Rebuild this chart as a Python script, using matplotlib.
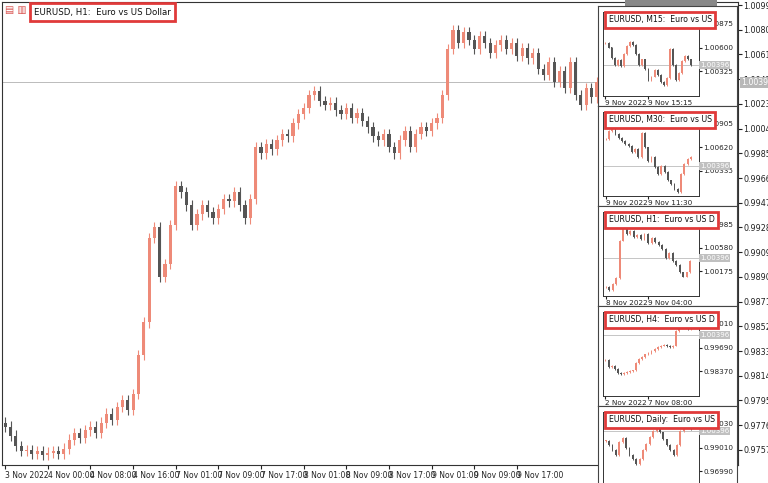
import matplotlib
matplotlib.use("Agg")
import matplotlib.pyplot as plt
import numpy as np

W, H = 768, 483
BULL = "#EE8A78"
BEAR = "#555555"

main_closes = [0.9775,0.9768,0.9760,0.9756,0.9757,0.9754,0.9756,0.9753,0.9755,0.9756,0.9754,0.9758,
 0.9765,0.9770,0.9766,0.9772,0.9775,0.9770,0.9778,0.9785,0.9780,0.9790,0.9795,0.9788,0.9800,
 0.9830,0.9855,0.9920,0.9928,0.9890,0.9900,0.9930,0.9960,
 0.9955,0.9945,0.9930,0.9938,0.9945,0.9940,0.9935,0.9942,0.9950,0.9948,0.9955,0.9945,0.9935,0.9950,
 0.9990,0.9985,0.9992,0.9988,0.9995,1.0000,0.9998,1.0008,1.0015,1.0020,1.0030,1.0033,
 1.0025,1.0022,1.0024,1.0018,1.0015,1.0020,1.0012,1.0016,1.0010,1.0005,0.9998,0.9995,1.0000,0.9990,0.9985,0.9995,1.0002,0.9990,
 1.0000,1.0005,1.0002,1.0008,1.0012,1.0030,
 1.0065,1.0080,1.0070,
 1.0078,1.0072,1.0065,1.0075,1.0070,1.0062,1.0068,1.0072,1.0065,1.0070,1.0060,1.0066,1.0058,1.0062,
 1.0050,1.0045,1.0055,1.0040,1.0048,1.0035,1.0055,1.0030,1.0022,1.0035,1.0028,1.0040]
main_open0 = 0.9778
main_ticks = [1.00990,1.00800,1.00610,1.00420,1.00230,1.00040,0.99850,0.99660,0.99470,0.99280,
              0.99090,0.98900,0.98710,0.98520,0.98330,0.98140,0.97950,0.97760,0.97570]
main_xlabels = ["3 Nov 2022","4 Nov 00:00","4 Nov 08:00","4 Nov 16:00","7 Nov 01:00","7 Nov 09:00",
                "7 Nov 17:00","8 Nov 01:00","8 Nov 09:00","8 Nov 17:00","9 Nov 01:00","9 Nov 09:00","9 Nov 17:00"]
current = 1.00396

minis = [
 ("EURUSD, M15:  Euro vs US", [1.00875,1.00600,1.00325], ["9 Nov 2022","9 Nov 15:15"],
  [1.0065,1.0060,1.0048,1.0040,1.0045,1.0038,1.0052,1.0062,1.0066,1.0063,1.0052,1.0040,1.0046,1.0035,1.0022,
   1.0026,1.0034,1.0028,1.0020,1.0016,1.0024,1.0058,1.0040,1.0022,1.0030,1.0044,1.0050,1.0046,1.0040]),
 ("EURUSD, M30:  Euro vs US", [1.00905,1.00620,1.00335], ["9 Nov 2022","9 Nov 11:30"],
  [1.0072,1.0082,1.0086,1.0078,1.0074,1.0070,1.0066,1.0064,1.0056,1.0060,1.0050,1.0080,1.0062,1.0046,
   1.0050,1.0038,1.0030,1.0040,1.0032,1.0022,1.0018,1.0012,1.0008,1.0030,1.0042,1.0048,1.0050]),
 ("EURUSD, H1:  Euro vs US D", [1.00985,1.00580,1.00175], ["8 Nov 2022","9 Nov 04:00"],
  [0.9990,0.9985,0.9995,1.0005,1.0070,1.0090,1.0082,1.0086,1.0076,1.0080,1.0072,1.0082,1.0066,1.0074,
   1.0068,1.0062,1.0055,1.0040,1.0048,1.0035,1.0028,1.0015,1.0008,1.0015,1.0035]),
 ("EURUSD, H4:  Euro vs US D", [1.01010,0.99690,0.98370], ["2 Nov 2022","7 Nov 08:00"],
  [0.9900,0.9860,0.9865,0.9850,0.9828,0.9820,0.9824,0.9830,0.9836,0.9840,0.9880,0.9905,0.9915,0.9930,
   0.9940,0.9950,0.9962,0.9970,0.9980,0.9984,0.9975,0.9972,0.9980,1.0060,1.0095,1.0090,1.0082,1.0075,1.0085]),
 ("EURUSD, Daily:  Euro vs US", [1.01030,0.99010,0.96990], ["",""],
  [0.9960,0.9920,0.9880,0.9840,0.9950,0.9980,0.9900,0.9840,0.9800,0.9760,0.9800,0.9880,0.9930,0.9990,
   1.0040,1.0100,1.0030,0.9970,0.9920,0.9880,0.9840,0.9920,1.0040,1.0080,1.0100,1.0060]),
]

def rect(x, y, w, h):
    return [x / W, 1 - (y + h) / H, w / W, h / H]

def candles(ax, closes, o0, wick, width=0.6, lw=0.8):
    closes = np.array(closes)
    opens = np.concatenate([[o0], closes[:-1]])
    for i in range(len(closes)):
        o, c = opens[i], closes[i]
        col = BULL if c >= o else BEAR
        ax.vlines(i, min(o, c) - wick, max(o, c) + wick, color=col, lw=lw, zorder=2)
        ax.bar(i, max(abs(c - o), wick * 0.15), bottom=min(o, c), width=width, color=col, zorder=3)

fig = plt.figure(figsize=(W / 100, H / 100), dpi=100)
fig.patch.set_facecolor("white")
ax = fig.add_axes(rect(2, 2, 736, 463))
candles(ax, main_closes, main_open0, 0.0004)
step = (1.00990 - 0.97570) / 443
ax.set_ylim(0.97570 - 15 * step, 1.00990 + 3 * step)
ax.set_xlim(-0.6, -0.6 + 736 / 5.33)
ax.yaxis.tick_right()
ax.set_yticks(main_ticks)
ax.set_yticklabels([f"{t:.5f}" for t in main_ticks])
ax.set_xticks(np.arange(0, 13) * 8)
ax.set_xticklabels(main_xlabels, ha="left")
ax.tick_params(axis="x", labelsize=5.5, length=3, width=0.8, pad=1, colors="#222")
ax.tick_params(axis="y", labelsize=5.8, length=3, width=0.8, pad=1, colors="#222")
for s in ax.spines.values():
    s.set_color("#333"); s.set_linewidth(0.8)
ax.axhline(current, color="#bbbbbb", lw=0.7, zorder=1)
ax.text(1.004, current, "1.00396", transform=ax.get_yaxis_transform(), fontsize=5.6, color="white",
        va="center", ha="left", bbox=dict(boxstyle="square,pad=0.15", fc="#b8b8b8", ec="none"))
fig.text(34 / W, 1 - 12 / H, "EURUSD, H1:  Euro vs US Dollar", fontsize=6.2, va="center", color="#111",
         bbox=dict(boxstyle="square,pad=0.5", fc="white", ec="#e03a3a", lw=2))
fig.text(5 / W, 1 - 10 / H, "▤ ▥", fontsize=7, color="#d9534f", va="center")

hb = fig.add_axes(rect(625, 0, 92, 6)); hb.set_facecolor("#888888"); hb.set_xticks([]); hb.set_yticks([])
for s in hb.spines.values(): s.set_visible(False)

for k, (title, ticks, dlabels, closes) in enumerate(minis):
    top = 12 + 100 * k
    bg = fig.add_axes(rect(598, top - 6, 139, 100)); bg.set_xticks([]); bg.set_yticks([])
    bg.set_facecolor("white")
    for s in bg.spines.values(): s.set_color("#444"); s.set_linewidth(0.8)
    m = fig.add_axes(rect(603, top, 96, 84))
    m.set_facecolor("white")
    candles(m, closes, closes[0], (ticks[0] - ticks[2]) * 0.02, width=0.55, lw=0.7)
    st = (ticks[0] - ticks[2]) / 47
    m.set_ylim(ticks[2] - 25 * st, ticks[0] + 12 * st)
    m.set_xlim(-0.8, len(closes) + 1.5)
    m.axhline(current, color="#bbbbbb", lw=0.6, zorder=1)
    m.yaxis.tick_right()
    m.set_yticks(ticks)
    m.set_yticklabels([f"{t:.5f}" for t in ticks])
    n = len(closes)
    m.set_xticks([0, n // 2])
    m.set_xticklabels(dlabels, ha="left")
    m.tick_params(labelsize=5.2, length=2, pad=1, colors="#222")
    for s in m.spines.values(): s.set_color("#333"); s.set_linewidth(0.7)
    m.text(1.01, current, "1.00396", transform=m.get_yaxis_transform(), fontsize=5.0, color="white",
           va="center", ha="left", bbox=dict(boxstyle="square,pad=0.15", fc="#c0c0c0", ec="none"), zorder=5)
    m.text(0.06, 0.91, title, transform=m.transAxes, fontsize=5.6, va="center", color="#111",
           bbox=dict(boxstyle="square,pad=0.45", fc="white", ec="#e03a3a", lw=2), zorder=10, clip_on=False)

fig.savefig("out.png", dpi=100)
